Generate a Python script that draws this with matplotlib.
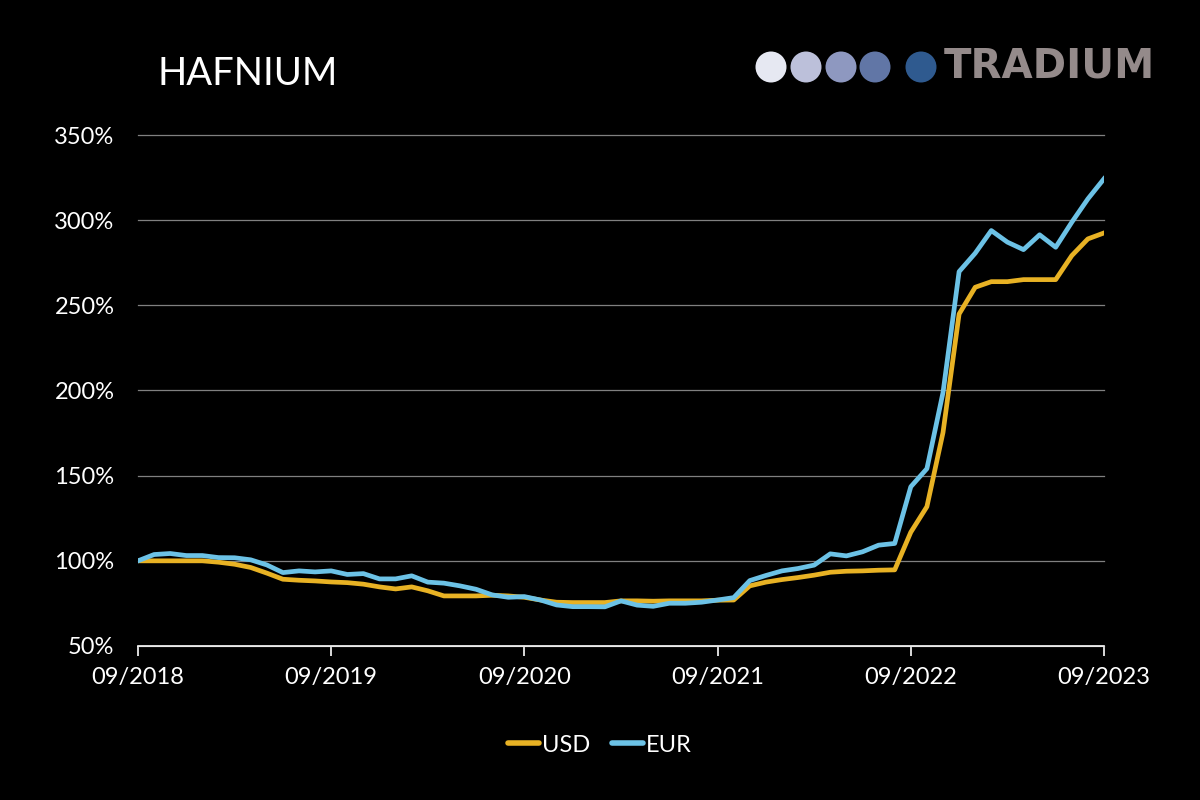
#!/usr/bin/env python3
"""
Hafnium price index chart (USD vs EUR), monthly, 09/2018 - 09/2023
"""

import matplotlib
matplotlib.use('Agg')
import matplotlib.pyplot as plt
from matplotlib.patches import Circle

# Monthly index values in %, starting 09/2018 (= 100)
usd = [100, 100, 100, 100, 100, 99.2, 98, 96.1, 92.8, 89.2,
       88.6, 88.2, 87.6, 87.2, 86.3, 84.7, 83.5, 84.7, 82.4, 79.4,
       79.4, 79.4, 79.8, 79.4, 78.6, 77, 75.7, 75.5, 75.5, 75.5,
       76.5, 76.5, 76.3, 76.5, 76.5, 76.5, 76.9, 77, 85.3, 87.5,
       89, 90.2, 91.6, 93.3, 93.9, 94.1, 94.5, 94.7, 116.8, 131.8,
       175.3, 244.9, 260.6, 263.9, 263.9, 265.1, 265.1, 265.1, 279.2, 289,
       292.5]
eur = [100, 103.7, 104.3, 103.1, 103.1, 101.9, 101.8, 100.6, 97.6, 93.1,
       94.1, 93.5, 94.1, 92, 92.5, 89.4, 89.4, 91.2, 87.5, 86.9,
       85.3, 83.3, 80, 78.6, 79, 77, 74.1, 73.1, 73.1, 73.0,
       76.5, 74, 73.3, 75.1, 75.1, 75.7, 77, 78.4, 88.4, 91.4,
       94.1, 95.5, 97.5, 104.1, 102.9, 105.3, 109.2, 110.2, 143.5, 154.1,
       198.8, 269.8, 280.6, 293.9, 287.1, 282.7, 291.4, 284.1, 298.8, 312.5,
       324.3]
months = list(range(len(usd)))

x_ticks = [0, 12, 24, 36, 48, 60]
x_labels = ['09/2018', '09/2019', '09/2020', '09/2021', '09/2022', '09/2023']
y_ticks = [50, 100, 150, 200, 250, 300, 350]

logo_colors = ['#e6e8f2', '#bcc0da', '#8e98c0', '#6176a6', '#2f5a8f']

USD_COLOR = '#e8b224'
EUR_COLOR = '#6cc2e6'

plt.rcParams['font.family'] = ['Lato', 'DejaVu Sans']

fig = plt.figure(figsize=(12, 8), dpi=100, facecolor='black')
ax = fig.add_axes([138 / 1200, 1 - 646 / 800, 966 / 1200, 511 / 800])
ax.set_facecolor('black')

ax.plot(months, usd, color=USD_COLOR, linewidth=3.4, label='USD',
        solid_joinstyle='round', zorder=3)
ax.plot(months, eur, color=EUR_COLOR, linewidth=3.4, label='EUR',
        solid_joinstyle='round', zorder=4)

ax.set_xlim(0, 60)
ax.set_ylim(50, 350)
ax.set_xticks(x_ticks)
ax.set_xticklabels(x_labels)
ax.set_yticks(y_ticks)
ax.set_yticklabels([f'{v}%' for v in y_ticks])

for side in ['top', 'right', 'left']:
    ax.spines[side].set_visible(False)
ax.spines['bottom'].set_color('white')
ax.spines['bottom'].set_linewidth(1.2)

ax.tick_params(axis='x', colors='white', length=7, width=1.2,
               labelsize=17, pad=8)
ax.tick_params(axis='y', colors='white', length=0, labelsize=17, pad=17)
ax.yaxis.grid(True, color='#808080', linewidth=0.9)
ax.set_axisbelow(True)
for gl in ax.yaxis.get_gridlines():
    gl.set_clip_on(False)

# Title
fig.text(158 / 1200, 1 - 85 / 800, 'HAFNIUM', color='white', fontsize=27.5,
         fontweight='normal', ha='left', va='baseline')

# Logo
for i, c in enumerate(logo_colors):
    cx = [771, 806, 841, 875, 921][i]
    fig.patches.append(Circle((cx, 800 - 67), 15.5, transform=None,
                              facecolor=c, edgecolor='none'))
fig.text(944 / 1200, 1 - 67 / 800, 'TRADIUM', color='#948a8a',
         fontsize=29, fontweight='bold', family='DejaVu Sans',
         ha='left', va='center')

# Legend
leg = fig.legend(loc='center', bbox_to_anchor=(0.5, 1 - 745 / 800),
                 ncol=2, frameon=False, fontsize=17, handlelength=1.3,
                 handletextpad=0.15, columnspacing=0.9)
for t in leg.get_texts():
    t.set_color('white')
for h in leg.get_lines():
    h.set_linewidth(4)
    h.set_solid_capstyle('round')

fig.savefig('out.png', dpi=100, facecolor='black')
